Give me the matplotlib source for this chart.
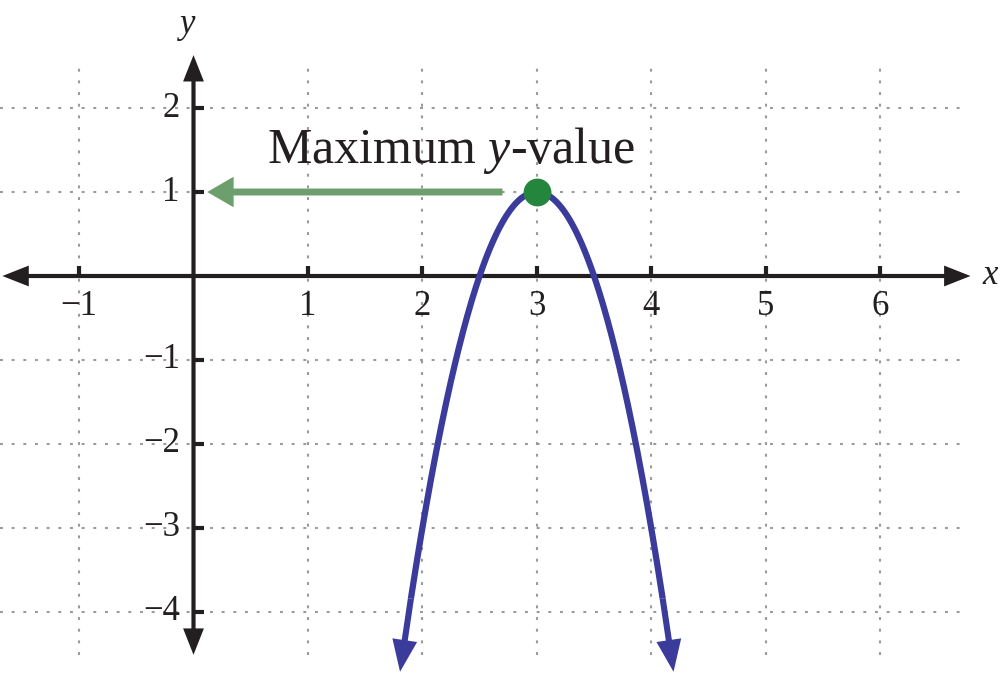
import numpy as np
import matplotlib
matplotlib.use("Agg")
import matplotlib.pyplot as plt

# parabola y = a (x - h)^2 + k
a, h, k = -4.0, 3.0, 1.0
vertex = (h, k)
x_ticks = [-1, 1, 2, 3, 4, 5, 6]
y_ticks = [-4, -3, -2, -1, 1, 2]
x_grid = [-1, 1, 2, 3, 4, 5, 6]
y_grid = [-4, -3, -2, -1, 1, 2]
label_text = "Maximum $\\it{y}$-value"

ink = "#231f20"
blue = "#3b3b9c"
green_arrow = "#6c9f6c"
green_dot = "#24853d"
grid_c = "#9a9a9a"

plt.rcParams["font.family"] = ["Liberation Serif", "DejaVu Serif"]
plt.rcParams["mathtext.fontset"] = "custom"
plt.rcParams["mathtext.it"] = "Liberation Serif:italic"
plt.rcParams["mathtext.rm"] = "Liberation Serif"

fig = plt.figure(figsize=(10, 6.8), dpi=100)
ax = fig.add_axes([0, 0, 1, 1])
ax.set_xlim(-1.691, 7.048)
ax.set_ylim(-4.81, 3.286)
ax.axis("off")

# dotted grid
ax.vlines(x_grid, -4.51, 2.48, colors=grid_c, linestyles=(0, (1.4, 4.2)), lw=1.5, zorder=1)
ax.hlines(y_grid, -1.69, 6.70, colors=grid_c, linestyles=(0, (1.4, 4.2)), lw=1.5, zorder=1)


def sharp_arrow(start, end, color, tail, hw, hl, ms=20, z=3):
    style = f"simple,head_length={hl},head_width={hw},tail_width={tail}"
    ax.annotate("", xy=end, xytext=start,
                arrowprops=dict(arrowstyle=style, color=color, lw=0,
                                mutation_scale=ms, shrinkA=0, shrinkB=0),
                zorder=z)


# axes with arrowheads at both ends
sharp_arrow((2.5, 0), (6.79, 0), ink, 0.15, 0.75, 0.95)
sharp_arrow((2.5, 0), (-1.67, 0), ink, 0.15, 0.75, 0.95)
sharp_arrow((0, -1), (0, 2.63), ink, 0.15, 0.75, 0.95)
sharp_arrow((0, -1), (0, -4.51), ink, 0.15, 0.75, 0.95)

# ticks and labels
for t in x_ticks:
    ax.plot([t, t], [0, 0.12], color=ink, lw=3, solid_capstyle="butt", zorder=3)
    ax.text(t, -0.17, str(t).replace("-", "\u2212"), ha="center", va="top",
            fontsize=25, color=ink)
for t in y_ticks:
    ax.plot([0, 0.09], [t, t], color=ink, lw=3, solid_capstyle="butt", zorder=3)
    ax.text(-0.12, t, str(t).replace("-", "\u2212"), ha="right", va="center",
            fontsize=25, color=ink)

ax.text(6.96, 0.0, "x", style="italic", ha="center", va="center", fontsize=25, color=ink)
ax.text(-0.05, 2.99, "y", style="italic", ha="center", va="center", fontsize=25, color=ink)

# parabola with arrowheads on both ends
xs = np.linspace(1.90, 4.10, 300)
ys = a * (xs - h) ** 2 + k
ax.plot(xs, ys, color=blue, lw=4.5, solid_capstyle="butt", zorder=4)
for x0, x1 in [(1.90, 1.805), (4.10, 4.195)]:
    sharp_arrow((x0, a * (x0 - h) ** 2 + k), (x1, a * (x1 - h) ** 2 + k),
                blue, 0.22, 0.9, 1.15, z=4)

# maximum marker and pointer
sharp_arrow((2.70, k), (0.12, k), green_arrow, 0.25, 1.1, 0.95, z=5)
ax.plot(*vertex, "o", color=green_dot, ms=19, zorder=6)
ax.text(2.25, 1.35, label_text, ha="center", va="baseline", fontsize=36, color=ink)

fig.savefig("out.png", dpi=100)
